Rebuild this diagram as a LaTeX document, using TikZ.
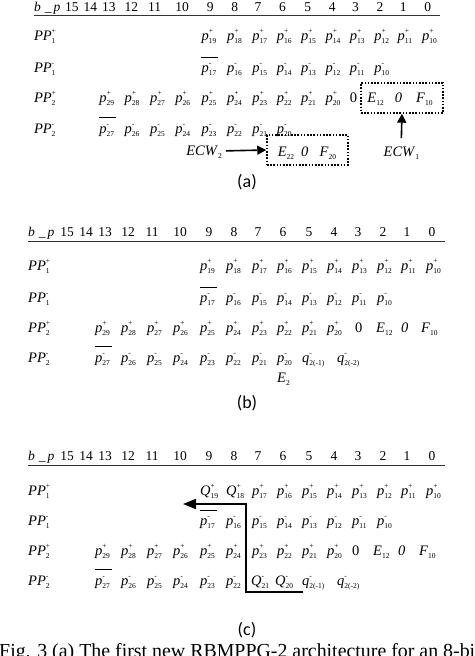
\documentclass[tikz,border=0pt]{standalone}
\usepackage{fontspec}
\setmainfont{Liberation Serif}
\newfontfamily\labfont{Carlito}
\usetikzlibrary{arrows.meta}
\newcommand{\sct}[1]{{\fontsize{7.5}{7.5}\selectfont #1}}
\newcommand{\tm}[3]{\textit{#1}\rlap{\raisebox{0.95ex}{\sct{#2}}}\raisebox{-0.5ex}{\sct{#3}}}
\newcommand{\sbx}[2]{\textit{#1}\raisebox{-0.5ex}{\sct{#2}}}
\tikzset{
  ent/.style={anchor=base west, inner sep=0pt, font=\fontsize{14.5}{14.5}\selectfont},
  hdr/.style={anchor=base, inner sep=0pt, font=\fontsize{13.5}{13.5}\selectfont},
  bar/.style={line width=0.9pt},
  rulel/.style={line width=0.9pt, draw=black!80},
  ebox/.style={draw, line width=1.4pt, dash pattern=on 1.6pt off 1.6pt, inner sep=0pt},
  arr/.style={line width=1.6pt, -{Triangle[length=9pt,width=9pt]}},
  plab/.style={font=\labfont\fontsize{18}{18}\selectfont, inner sep=0pt},
}
\begin{document}
\begin{tikzpicture}[x=1pt,y=-1pt]
\useasboundingbox (0,0) rectangle (474,656);
\fill[white] (0,0) rectangle (474,656);

% ---------- panel (a)
\begin{scope}[xshift=6.5pt, xscale=0.975]
\node[hdr, anchor=base west] (bpA) at (28,11) {\textit{b}\hspace{4pt}\_\hspace{2pt}\textit{p}};
\foreach \d/\x in {15/67,14/86,13/105,12/128,11/152,10/180,9/209,8/234,7/258,6/283,5/309,4/334,3/358,2/383,1/407,0/432}
  \node[hdr] (hA\d) at (\x,11) {\d};
\draw[rulel] (28,15) -- (445,15);
\node[ent] (lA1) at (28,40) {\tm{PP}{+}{1}};
\node[ent] (lA2) at (28,72) {\tm{PP}{-}{1}};
\node[ent] (lA3) at (28,102) {\tm{PP}{+}{2}};
\node[ent] (lA4) at (28,133) {\tm{PP}{-}{2}};
\foreach \c/\x in {9/200,8/226,7/252,6/277,5/302,4/327,3/352,2/377,1/401,0/426}
  \node[ent] (a1p\c) at (\x,40) {\tm{p}{+}{1\c}};
\foreach \c/\x in {7/200,6/226,5/252,4/277,3/302,2/327,1/352,0/377}
  \node[ent] (a1m\c) at (\x,72) {\tm{p}{-}{1\c}};
\draw[bar] ([yshift=15pt]a1m7.base west) -- ++(17,0);
\foreach \c/\x in {9/95,8/121,7/147,6/173,5/200,4/226,3/252,2/277,1/302,0/327}
  \node[ent] (a2p\c) at (\x,102) {\tm{p}{+}{2\c}};
\node[ent] (a2z) at (352,102) {0};
\foreach \c/\x in {7/95,6/121,5/147,4/173,3/200,2/226,1/252,0/277}
  \node[ent] (a2m\c) at (\x,133) {\tm{p}{-}{2\c}};
\draw[bar] ([yshift=16pt]a2m7.base west) -- ++(17,0);
% boxes
\node[ent] (aE1) at (370,102) {\sbx{E}{12}};
\node[ent] (aZ1) at (398,102) {\textit{0}};
\node[ent] (aF1) at (420,102) {\sbx{F}{10}};
\node[ebox, minimum width=82pt, minimum height=30pt] (boxA1) at (405.6,98) {};
\node[ent] (aE2) at (278,156) {\sbx{E}{22}};
\node[ent] (aZ2) at (302,156) {\textit{0}};
\node[ent] (aF2) at (321,156) {\sbx{F}{20}};
\node[ebox, minimum width=81pt, minimum height=30pt] (boxA2) at (308.7,150) {};
\node[ent, anchor=base east] (ecw2) at (221,155) {\sbx{ECW}{2}};
\draw[arr] ([xshift=4pt,yshift=1pt]ecw2.east) -- (boxA2.west);
\node[ent, anchor=base] (ecw1) at (405,156) {\sbx{ECW}{1}};
\draw[arr] ([yshift=8pt]ecw1.north) -- (boxA1.south);
\end{scope}
\node[plab] (labA) at (247,182) {(a)};

% ---------- panel (b)
\node[hdr, anchor=base west] (bpB) at (28,236) {\textit{b}\hspace{4pt}\_\hspace{2pt}\textit{p}};
\foreach \d/\x in {15/67,14/86,13/105,12/128,11/152,10/180,9/209,8/234,7/258,6/283,5/309,4/334,3/358,2/383,1/407,0/432}
  \node[hdr] (hB\d) at (\x,236) {\d};
\draw[rulel] (28,241) -- (445,241);
\node[ent] (lB1) at (28,270) {\tm{PP}{+}{1}};
\node[ent] (lB2) at (28,302) {\tm{PP}{-}{1}};
\node[ent] (lB3) at (28,332) {\tm{PP}{+}{2}};
\node[ent] (lB4) at (28,362) {\tm{PP}{-}{2}};
\foreach \c/\x in {9/200,8/226,7/252,6/277,5/302,4/327,3/352,2/377,1/401,0/426}
  \node[ent] (b1p\c) at (\x,270) {\tm{p}{+}{1\c}};
\foreach \c/\x in {7/200,6/226,5/252,4/277,3/302,2/327,1/352,0/377}
  \node[ent] (b1m\c) at (\x,302) {\tm{p}{-}{1\c}};
\draw[bar] ([yshift=15pt]b1m7.base west) -- ++(17,0);
\foreach \c/\x in {9/95,8/121,7/147,6/173,5/200,4/226,3/252,2/277,1/302,0/327}
  \node[ent] (b2p\c) at (\x,332) {\tm{p}{+}{2\c}};
\node[ent] (b2z) at (355,332) {0};
\node[ent] (bE1) at (376,332) {\sbx{E}{12}};
\node[ent] (bZ1) at (401,332) {\textit{0}};
\node[ent] (bF1) at (421,332) {\sbx{F}{10}};
\foreach \c/\x in {7/95,6/121,5/147,4/173,3/200,2/226,1/252,0/277}
  \node[ent] (b2m\c) at (\x,362) {\tm{p}{-}{2\c}};
\draw[bar] ([yshift=16pt]b2m7.base west) -- ++(17,0);
\node[ent] (bq1) at (302,362) {\tm{q}{-}{2(-1)}};
\node[ent] (bq2) at (337,362) {\tm{q}{-}{2(-2)}};
\node[ent] (bE2) at (277,382) {\sbx{E}{2}};
\node[plab] (labB) at (247,403) {(b)};

% ---------- panel (c)
\node[hdr, anchor=base west] (bpC) at (28,460) {\textit{b}\hspace{4pt}\_\hspace{2pt}\textit{p}};
\foreach \d/\x in {15/67,14/86,13/105,12/128,11/152,10/180,9/209,8/234,7/258,6/283,5/309,4/334,3/358,2/383,1/407,0/432}
  \node[hdr] (hC\d) at (\x,460) {\d};
\draw[rulel] (28,465) -- (445,465);
\node[ent] (lC1) at (28,495) {\tm{PP}{+}{1}};
\node[ent] (lC2) at (28,525) {\tm{PP}{-}{1}};
\node[ent] (lC3) at (28,555) {\tm{PP}{+}{2}};
\node[ent] (lC4) at (28,585) {\tm{PP}{-}{2}};
\node[ent] (cQ19) at (200,495) {\tm{Q}{+}{19}};
\node[ent] (cQ18) at (226,495) {\tm{Q}{+}{18}};
\foreach \c/\x in {7/252,6/277,5/302,4/327,3/352,2/377,1/401,0/426}
  \node[ent] (c1p\c) at (\x,495) {\tm{p}{+}{1\c}};
\foreach \c/\x in {7/200,6/226,5/252,4/277,3/302,2/327,1/352,0/377}
  \node[ent] (c1m\c) at (\x,525) {\tm{p}{-}{1\c}};
\draw[bar] ([yshift=15pt]c1m7.base west) -- ++(17,0);
\foreach \c/\x in {9/95,8/121,7/147,6/173,5/200,4/226,3/252,2/277,1/302,0/327}
  \node[ent] (c2p\c) at (\x,555) {\tm{p}{+}{2\c}};
\node[ent] (c2z) at (352,555) {0};
\node[ent] (cE1) at (373,555) {\sbx{E}{12}};
\node[ent] (cZ1) at (398,555) {\textit{0}};
\node[ent] (cF1) at (419,555) {\sbx{F}{10}};
\foreach \c/\x in {7/95,6/121,5/147,4/173,3/200,2/226}
  \node[ent] (c2m\c) at (\x,585) {\tm{p}{-}{2\c}};
\draw[bar] ([yshift=16pt]c2m7.base west) -- ++(17,0);
\node[ent] (cQ21) at (251,585) {\tm{Q}{-}{21}};
\node[ent] (cQ20) at (275,585) {\tm{Q}{-}{20}};
\node[ent] (cq1) at (302,585) {\tm{q}{-}{2(-1)}};
\node[ent] (cq2) at (337,585) {\tm{q}{-}{2(-2)}};
\coordinate (cA) at (303,592);
\coordinate (cB) at (246,592);
\coordinate (cC) at (246,504);
\coordinate (cD) at (183,504);
\draw[line width=1.8pt, -{Triangle[length=13pt,width=10pt]}] (cA) -- (cB) -- (cC) -- (cD);
\node[plab] (labC) at (247,630) {(c)};

% ---------- caption (cut by the frame)
\node[anchor=base west, inner sep=0pt] (cap) at (-1,657)
  {\resizebox{476pt}{!}{\fontsize{19}{19}\selectfont Fig. 3 (a) The first new RBMPPG-2 architecture for an 8-bi}};
\end{tikzpicture}
\end{document}
